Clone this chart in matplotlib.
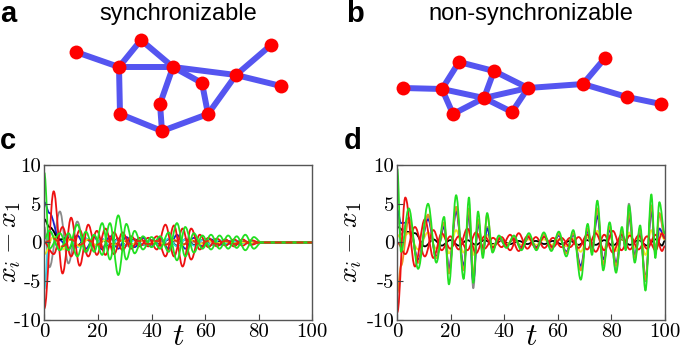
import matplotlib
matplotlib.use("Agg")
import matplotlib.pyplot as plt
from matplotlib.path import Path
from matplotlib.patches import PathPatch

plt.rcParams['mathtext.fontset'] = 'cm'
plt.rcParams['axes.unicode_minus'] = False

# ---- network layouts (pixel positions) ----
a_x = [76, 141, 119, 173, 271, 236, 281, 202, 160, 120, 208, 162]
a_y = [52, 40, 67, 67, 45, 75, 86, 83, 104, 114, 114, 131]
a_edges = [(0, 2), (2, 1), (1, 3), (2, 3), (3, 5), (5, 4), (5, 6), (3, 7), (7, 10),
           (10, 5), (3, 8), (8, 11), (2, 9), (9, 11), (11, 10)]

b_x = [403, 442, 459, 494, 484, 453, 512, 528, 583, 605, 627, 661]
b_y = [88, 89, 62, 71, 98, 114, 112, 88, 84, 58, 97, 104]
b_edges = [(0, 1), (1, 2), (2, 3), (3, 7), (3, 4), (1, 4), (1, 5), (5, 4), (4, 7),
           (4, 6), (6, 7), (7, 8), (8, 9), (8, 10), (10, 11)]

# ---- panel c : synchronizable (extrema) ----
tA_c = [0, 3.5, 6.8, 10.0, 13.2, 16.4, 19.6, 22.8, 26.0, 29.2,
        32.4, 35.6, 38.8, 42.0, 45.2, 48.4, 51.6, 54.8, 58.0, 61.2,
        64.4, 67.6, 70.8, 74.0, 77.2, 80.4, 100]
red1_c = [-8.5, 6.6, -4.0, 3.2, -3.0, 2.3, -1.6, 1.8, -1.5, 1.3,
          -0.8, 0.6, -0.5, 0.8, -1.8, 2.2, -3.1, 1.8, -0.9, 0.6,
          -0.5, 0.4, -0.5, 0.4, -0.3, 0.0, 0.0]
red2_c = [0.0, -1.5, 2.0, -1.8, 1.6, -1.8, 1.5, -1.6, 1.3, -1.0,
          0.8, -0.5, 0.6, -0.9, 2.3, -1.8, 1.8, -2.2, 1.0, -0.6,
          0.5, -0.4, 0.4, -0.4, 0.3, 0.0, 0.0]
yellow_c = [-1.5, 0.8, -0.9, 0.6, -0.5, 0.4, -0.4, 0.3, -0.3, 0.3,
            -0.3, 0.3, -0.2, 0.2, -0.3, 0.3, -0.3, 0.3, -0.2, 0.2,
            -0.1, 0.1, -0.1, 0.0, 0.0, 0.0, 0.0]
orange_c = [0.0, 0.5, -0.5, 0.4, -0.3, 0.3, -0.3, 0.3, -0.3, 0.3,
            -0.2, 0.2, -0.2, 0.2, -0.3, 0.3, -0.3, 0.3, -0.2, 0.2,
            -0.2, 0.2, -0.2, 0.2, -0.1, 0.0, 0.0]

tB_c = [0, 1.9, 5.8, 9.0, 12.3, 15.5, 18.6, 21.6, 24.5, 27.6,
        30.6, 33.7, 36.8, 40.0, 43.2, 46.4, 49.5, 52.6, 55.8, 59.0,
        62.2, 65.4, 68.6, 71.8, 75.0, 78.2, 81.0, 100]
green1_c = [9.0, -0.8, 1.2, -1.0, 2.3, -1.2, 1.0, -1.6, 2.5, -4.2,
            2.4, -1.4, 0.8, -0.6, 0.8, -1.2, 2.5, -1.8, 1.2, -0.8,
            1.0, -0.8, 0.9, -0.7, 1.0, -0.8, 0.0, 0.0]
green2_c = [0.5, 1.5, -1.0, 1.2, -1.8, 1.4, -1.2, 2.5, -2.2, 3.5,
            -2.2, 1.5, -0.9, 0.7, -0.8, 1.3, -2.3, 2.0, -1.3, 0.9,
            -0.9, 0.9, -0.8, 0.8, -1.0, 0.7, 0.0, 0.0]
gray_c = [2.0, -3.2, 4.0, -2.7, 2.7, -1.3, 0.8, -0.6, 0.5, -0.4,
          0.3, -0.3, 0.2, -0.2, 0.2, -0.2, 0.2, -0.2, 0.1, -0.1,
          0.1, 0.0, 0.0, 0.0, 0.0, 0.0, 0.0, 0.0]
blue_c = [5.2, 3.8, 0.3, -0.8, 0.9, -0.8, 0.7, -0.9, 0.8, -0.8,
          0.7, -0.6, 0.6, -0.5, 0.6, -0.8, 1.0, -0.8, 0.6, -0.5,
          0.4, -0.3, 0.2, -0.2, 0.1, 0.0, 0.0, 0.0]
black_c = [3.0, 2.0, 0.4, 0.6, -0.4, 0.5, -0.4, 0.4, -0.5, 0.5,
           -0.4, 0.4, -0.3, 0.3, -0.3, 0.4, -0.4, 0.4, -0.3, 0.3,
           -0.3, 0.2, -0.2, 0.2, -0.1, 0.0, 0.0, 0.0]
cyan_c = [-6.0, 1.5, -1.0, 0.8, -0.6, 0.5, -0.5, 0.5, -0.4, 0.4,
          -0.4, 0.3, -0.3, 0.3, -0.4, 0.5, -0.5, 0.4, -0.4, 0.3,
          -0.3, 0.3, -0.2, 0.2, -0.1, 0.0, 0.0, 0.0]

# ---- panel d : non-synchronizable ----
tD = [0, 1.4, 4.3, 7.8, 11.5, 14.6, 17.5, 19.3, 22.0, 24.8,
      26.8, 28.4, 30.2, 32.0, 33.6, 35.6, 38.0, 40.8, 43.6, 46.4,
      49.2, 52.0, 54.8, 57.6, 60.4, 63.2, 65.8, 68.6, 71.2, 72.8,
      74.8, 77.0, 79.4, 81.8, 84.0, 85.4, 86.6, 88.8, 90.8, 92.8,
      95.0, 96.5, 98.0, 100]
green_d = [9.5, -1.2, 4.4, -3.4, 5.0, -2.6, 3.3, -5.4, 6.1, -4.7,
           5.8, -5.2, 4.0, -2.0, 3.8, -1.3, 0.9, -0.7, 0.9, -1.0,
           1.2, -1.0, 1.3, -1.1, 1.4, -1.8, 1.6, -4.8, 2.4, -1.6,
           5.4, -3.6, 2.6, -3.9, 2.0, -1.0, 4.8, -2.6, 2.2, -6.2,
           6.2, -2.0, 5.2, 1.2]
orange_d = [-6.5, -3.0, 3.0, -2.6, 3.6, -2.0, 2.6, -4.0, 4.6, -3.6,
            4.4, -4.2, 3.0, -1.5, 3.6, -1.0, 0.7, -0.5, 0.7, -0.8,
            0.9, -0.8, 1.0, -0.8, 1.1, -1.4, 1.2, -3.6, 1.8, -1.2,
            4.4, -2.8, 2.0, -3.0, 1.5, -0.8, 3.8, -2.0, 1.7, -4.8,
            4.8, -1.5, 3.8, 1.0]
blue_d = [4.2, 2.5, 2.6, -2.2, 3.0, -1.8, 2.0, -3.4, 4.0, -3.0,
          3.6, -5.0, 2.4, -1.2, 1.8, -0.8, 0.5, -0.4, 0.5, -0.6,
          0.7, -0.6, 0.8, -0.7, 0.9, -1.2, 1.0, -3.0, 1.5, -1.0,
          3.4, -2.2, 1.6, -2.6, 1.2, -0.6, 3.2, -1.6, 1.4, -4.6,
          4.0, -1.2, 1.8, 0.6]
gray_d = [3.5, 1.0, 3.2, -2.6, 3.4, -2.0, 2.4, -3.6, 4.2, -3.2,
          4.0, -5.9, 2.8, -1.4, 2.0, -0.9, 0.6, -0.5, 0.6, -0.7,
          0.8, -0.7, 0.9, -0.8, 1.0, -1.3, 1.1, -3.4, 1.6, -1.1,
          3.8, -3.0, 1.8, -3.6, 1.4, -0.7, 5.0, -1.8, 1.5, -5.0,
          4.4, -1.4, 3.6, 0.8]
yellow_d = [1.0, 0.5, 1.2, -0.9, 1.3, -0.8, 1.0, -1.4, 1.6, -1.3,
            1.5, -1.6, 1.1, -0.6, 1.0, -0.4, 0.3, -0.2, 0.3, -0.3,
            0.4, -0.3, 0.4, -0.3, 0.4, -0.5, 0.5, -1.2, 0.7, -0.5,
            1.5, -1.0, 0.8, -1.1, 0.6, -0.3, 1.3, -0.7, 0.6, -1.6,
            1.6, -0.5, 1.2, 0.4]

tR_d = [0, 3.0, 6.6, 10.3, 13.5, 16.6, 19.8, 23.0, 26.2, 29.4,
        32.6, 35.8, 39.0, 42.2, 45.4, 48.6, 51.8, 55.0, 58.2, 61.4,
        64.6, 67.8, 71.0, 74.2, 77.4, 80.6, 83.8, 87.0, 90.2, 93.4,
        96.6, 99.0, 100]
red1_d = [-9.0, 5.8, -3.1, 3.0, -2.0, 1.2, -0.8, 0.8, -1.0, 1.3,
          -0.8, 0.6, -0.6, 1.0, -1.1, 0.8, -0.7, 0.7, -0.6, 0.6,
          -0.6, 0.7, -0.9, 1.2, -1.0, 1.5, -1.0, 0.9, -0.9, 0.8,
          -1.0, 1.2, 0.5]
red2_d = [0.0, -1.5, 2.0, -1.8, 1.6, -1.0, 0.8, -0.9, 1.8, -1.4,
          0.8, -0.6, 0.7, -1.0, 1.2, -0.8, 0.7, -0.7, 0.6, -0.6,
          0.6, -0.7, 1.0, -1.2, 1.0, -1.3, 1.0, -0.9, 0.9, -0.8,
          1.0, -1.1, -0.5]
black_d = [2.0, 1.4, 1.2, -0.5, 0.4, -0.4, 0.3, -0.4, 0.3, -0.3,
           0.3, -0.2, 0.2, -0.2, 0.2, -0.2, 0.2, -0.2, 0.2, -0.2,
           0.2, -0.3, 0.3, -0.3, 0.3, -0.4, 0.4, -0.3, 0.3, -0.4,
           0.4, -0.4, 0.2]

yticks = [-10, -5, 0, 5, 10]
ytick_labels = ['-10', '-5', '0', '5', '10']
xticks = [0, 20, 40, 60, 80, 100]
xtick_labels = ['0', '20', '40', '60', '80', '100']

RED = '#ee1111'
GREEN = '#22e022'
BLUE = '#1a22c8'
GRAY = '#8a8a8a'
CYAN = '#33d8ee'
YELLOW = '#eeee22'
ORANGE = '#f08a22'


def wave(ax, t, v, color, lw=1.3, ls='-'):
    # smooth curve through the read extrema (flat tangent at each extremum)
    verts = [(t[0], v[0])]
    codes = [Path.MOVETO]
    for k in range(1, len(t)):
        dt = t[k] - t[k - 1]
        verts += [(t[k - 1] + 0.36 * dt, v[k - 1]), (t[k] - 0.36 * dt, v[k]), (t[k], v[k])]
        codes += [Path.CURVE4] * 3
    ax.add_patch(PathPatch(Path(verts, codes), facecolor='none', edgecolor=color,
                           lw=lw, linestyle=ls, capstyle='round', joinstyle='round'))


fig = plt.figure(figsize=(6.85, 3.54), dpi=100)

# overlay in pixel coordinates for the networks and panel letters
bg = fig.add_axes([0, 0, 1, 1])
bg.set_xlim(0, 685)
bg.set_ylim(354, 0)
bg.axis('off')

for xs, ys, edges in [(a_x, a_y, a_edges), (b_x, b_y, b_edges)]:
    for i, j in edges:
        bg.plot([xs[i], xs[j]], [ys[i], ys[j]], color='#5555f0', lw=4.3,
                solid_capstyle='round', zorder=1)
    bg.plot(xs, ys, 'o', color='#ff0000', ms=10, mec='none', zorder=2)

letter_font = dict(family='Liberation Sans', fontweight='bold', fontsize=21)
bg.text(0, 22, 'a', **letter_font)
bg.text(346, 22, 'b', **letter_font)
bg.text(0, 149, 'c', **letter_font)
bg.text(344, 149, 'd', **letter_font)
bg.text(178, 20, 'synchronizable', family='Liberation Sans', fontsize=17, ha='center')
bg.text(531, 20, 'non-synchronizable', family='Liberation Sans', fontsize=17, ha='center')


def style_axes(ax, ylab_x):
    ax.set_xlim(0, 100)
    ax.set_ylim(-10, 10)
    ax.set_xticks(xticks)
    ax.set_xticklabels(xtick_labels, family=['cmr10', 'DejaVu Serif'], fontsize=15)
    ax.set_yticks(yticks)
    ax.set_yticklabels(ytick_labels, family=['cmr10', 'DejaVu Serif'], fontsize=15)
    ax.tick_params(direction='in', length=4, width=0.8, top=False, right=False,
                   color='#444444', pad=2)
    for s in ax.spines.values():
        s.set_color('#555555')
        s.set_linewidth(1.0)
    ax.set_xlabel('$t$', fontsize=23, labelpad=-14)
    ax.set_ylabel('$x_i - x_1$', fontsize=20)
    ax.yaxis.set_label_coords(ylab_x, 0.5)


axc = fig.add_axes([0.0647, 0.096, 0.3912, 0.438])
wave(axc, tB_c, gray_c, GRAY)
wave(axc, tB_c, blue_c, BLUE)
wave(axc, tB_c, black_c, 'k')
wave(axc, tB_c, cyan_c, CYAN)
wave(axc, tA_c, yellow_c, YELLOW)
wave(axc, tA_c, red1_c, RED)
wave(axc, tA_c, red2_c, RED)
wave(axc, tB_c, green1_c, GREEN)
wave(axc, tB_c, green2_c, GREEN)
wave(axc, tA_c, orange_c, '#dd3311', ls=(0, (3, 3)))
style_axes(axc, -0.078)

axd = fig.add_axes([0.580, 0.096, 0.3904, 0.438])
wave(axd, tR_d, black_d, 'k')
wave(axd, tD, yellow_d, YELLOW)
wave(axd, tD, gray_d, GRAY)
wave(axd, tD, blue_d, BLUE)
wave(axd, tD, orange_d, ORANGE)
wave(axd, tR_d, red1_d, RED)
wave(axd, tR_d, red2_d, RED)
wave(axd, tD, green_d, GREEN)
style_axes(axd, -0.125)

fig.savefig('out.png', dpi=100)
